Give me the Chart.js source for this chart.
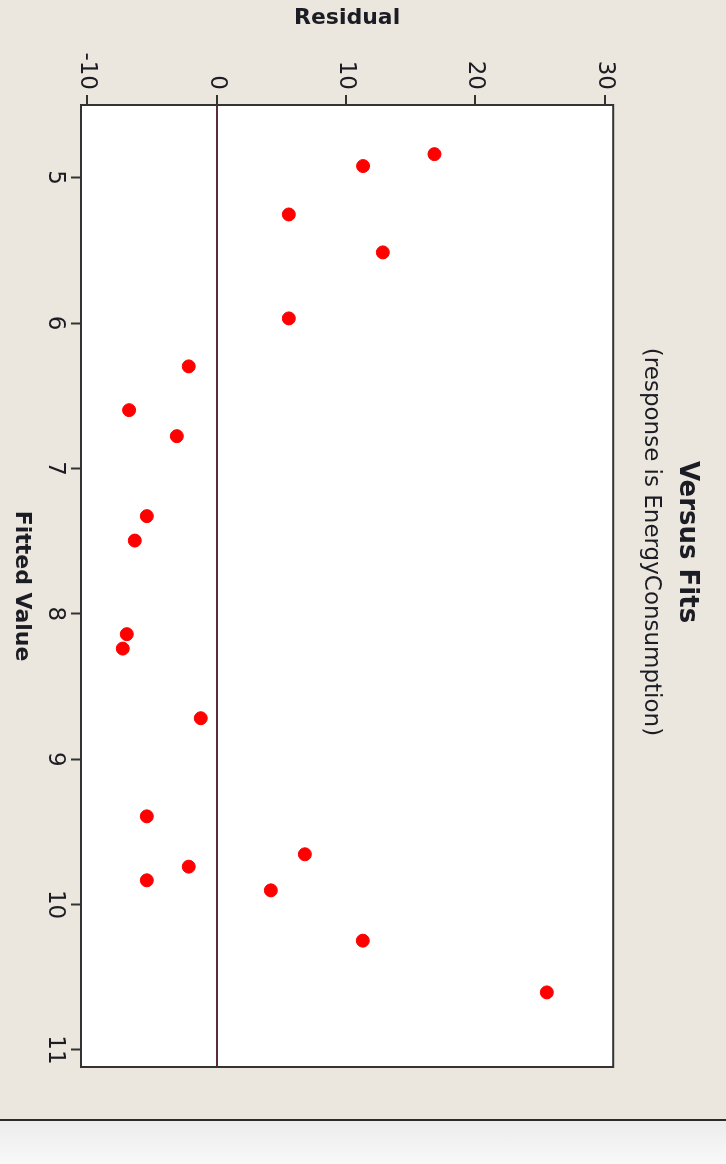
<!DOCTYPE html>
<html>
<head>
<meta charset="utf-8">
<title>Versus Fits</title>
<script src="https://cdn.jsdelivr.net/npm/chart.js@4.4.1/dist/chart.umd.min.js"></script>
<style>
    html, body {
        margin: 0;
        padding: 0;
        width: 726px;
        height: 1164px;
        overflow: hidden;
        background: #ebe7de;
    }
    /* chart is drawn landscape, then turned a quarter clockwise */
    .plot-wrap {
        position: absolute;
        left: 0;
        top: 0;
        width: 1120px;
        height: 726px;
        transform-origin: 0 0;
        transform: translateX(726px) rotate(90deg);
    }
    .bottom-bar {
        position: absolute;
        left: 0;
        top: 1119px;
        width: 726px;
        height: 45px;
        border-top: 2px solid #2b2b2b;
        background: linear-gradient(#ececec, #f9f9f9);
    }
</style>
</head>
<body>
<div class="plot-wrap"><canvas id="versus-fits" width="1120" height="726"></canvas></div>
<div class="bottom-bar"></div>

<script>
    "use strict";

    // Data
    var fittedValues = [4.838, 4.920, 5.253, 5.514, 5.968, 6.298, 6.599, 6.778, 7.328, 7.496,
                        8.140, 8.239, 8.718, 9.393, 9.654, 9.739, 9.833, 9.902, 10.248, 10.604];
    var residuals = [16.83, 11.31, 5.57, 12.84, 5.57, -2.17, -6.78, -3.09, -5.41, -6.34,
                     -6.96, -7.27, -1.24, -5.41, 6.81, -2.17, -5.41, 4.18, 11.29, 25.52];
    var fittedTicks = [5, 6, 7, 8, 9, 10, 11];
    var residualTicks = [-10, 0, 10, 20, 30];

    var textColor = '#1c1c24';
    var axisColor = '#333333';
    Chart.defaults.font.family = '"DejaVu Sans", Verdana, sans-serif';

    // white plot area and the frame round it
    var plotBox = {
        id: 'plotBox',
        beforeDraw: function (chart) {
            var a = chart.chartArea, c = chart.ctx;
            c.save();
            c.fillStyle = '#ffffff';
            c.fillRect(a.left, a.top, a.right - a.left, a.bottom - a.top);
            c.restore();
        },
        afterDraw: function (chart) {
            var a = chart.chartArea, c = chart.ctx;
            c.save();
            c.strokeStyle = axisColor;
            c.lineWidth = 2;
            c.strokeRect(a.left, a.top, a.right - a.left, a.bottom - a.top);
            c.restore();
        }
    };

    var points = fittedValues.map(function (f, i) {
        return {x: f, y: residuals[i]};
    });

    var ctx = document.getElementById('versus-fits').getContext('2d');
    var versusFits = new Chart(ctx, {
        type: 'scatter',
        data: {
            datasets: [{
                label: 'Residual',
                data: points,
                backgroundColor: '#ff0000',
                borderColor: '#ff0000',
                pointRadius: 6.5,
                pointHoverRadius: 6.5
            }]
        },
        options: {
            responsive: false,
            animation: false,
            layout: {padding: {left: 0, right: 36, top: 0, bottom: 0}},
            plugins: {
                legend: {display: false},
                tooltip: {enabled: false},
                title: {
                    display: true,
                    text: 'Versus Fits',
                    color: textColor,
                    font: {size: 26, weight: 'bold'},
                    padding: {top: 24, bottom: 3}
                },
                subtitle: {
                    display: true,
                    text: '(response is EnergyConsumption)',
                    color: textColor,
                    font: {size: 23},
                    padding: {top: 3, bottom: 24}
                }
            },
            scales: {
                x: {
                    type: 'linear',
                    position: 'bottom',
                    min: 4.5,
                    max: 11.117,
                    afterBuildTicks: function (s) {
                        s.ticks = fittedTicks.map(function (v) { return {value: v}; });
                    },
                    afterFit: function (s) { s.height = 81; },
                    border: {display: false},
                    grid: {drawOnChartArea: false, drawTicks: true, tickLength: 10, tickColor: axisColor, tickWidth: 2},
                    ticks: {color: textColor, font: {size: 23}, padding: 2, maxRotation: 0},
                    title: {
                        display: true,
                        text: 'Fitted Value',
                        color: textColor,
                        font: {size: 22, weight: 'bold'},
                        padding: {top: 0, bottom: 9}
                    }
                },
                y: {
                    type: 'linear',
                    position: 'left',
                    min: -10.5,
                    max: 30.65,
                    afterBuildTicks: function (s) {
                        s.ticks = residualTicks.map(function (v) { return {value: v}; });
                    },
                    afterFit: function (s) { s.width = 105; },
                    border: {display: false},
                    grid: {
                        color: function (c) {
                            return c.tick && c.tick.value === 0 ? '#5e2a3c' : 'rgba(0,0,0,0)';
                        },
                        lineWidth: 2,
                        drawTicks: true,
                        tickLength: 10,
                        tickColor: axisColor,
                        tickWidth: 2
                    },
                    ticks: {color: textColor, font: {size: 23}, padding: 5},
                    title: {
                        display: true,
                        text: 'Residual',
                        color: textColor,
                        font: {size: 22, weight: 'bold'},
                        padding: {top: 5, bottom: 0}
                    }
                },
                // empty right-hand strip so the titles centre like the original
                y2: {
                    position: 'right',
                    afterFit: function (s) { s.width = 17; },
                    border: {display: false},
                    grid: {display: false},
                    ticks: {display: false}
                }
            }
        },
        plugins: [plotBox]
    });
</script>
</body>
</html>
